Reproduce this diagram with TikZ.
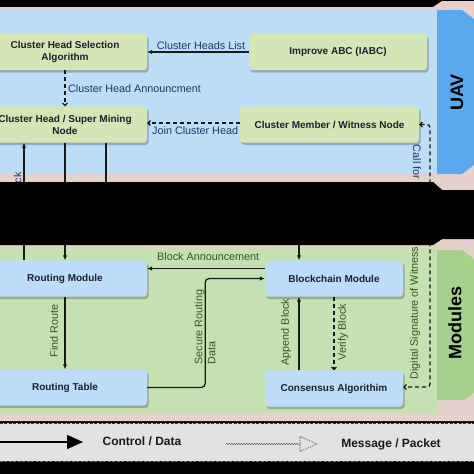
\documentclass[tikz,border=0pt]{standalone}
\usepackage{fontspec}
\setmainfont{Liberation Sans}
\usetikzlibrary{arrows.meta,shadows,decorations.pathmorphing,calc}
\definecolor{pinkf}{HTML}{E5D0CC}
\definecolor{uavbg}{HTML}{BDDCF6}
\definecolor{uavband}{HTML}{5AA8EE}
\definecolor{modbg}{HTML}{C5E0B3}
\definecolor{modband}{HTML}{A8D08D}
\definecolor{gboxc}{HTML}{D4E6B5}
\definecolor{bboxc}{HTML}{BDDCF7}
\definecolor{boxtxt}{HTML}{1B1F2E}
\definecolor{lblblue}{HTML}{1F3864}
\definecolor{lblgreen}{HTML}{375623}
\definecolor{leggray}{HTML}{E2E2E2}
\begin{document}
\begin{tikzpicture}[x=1pt,y=-1pt,
  boxbase/.style={rounded corners=3pt, minimum height=36pt, align=center,
    font=\bfseries\fontsize{10}{12}\selectfont, text=boxtxt, inner sep=1pt,
    drop shadow={shadow xshift=1.5pt, shadow yshift=-2.5pt, opacity=0.35, fill=black!70}},
  gbox/.style={boxbase, fill=gboxc},
  bbox/.style={boxbase, fill=bboxc},
  lbl/.style={font=\fontsize{10.8}{13}\selectfont, text=lblblue, inner sep=0pt},
  lblg/.style={lbl, text=lblgreen},
  solidarr/.style={line width=1.3pt, draw=black!90, -{Latex[length=5pt,width=4.5pt]}},
  dasharr/.style={line width=1.3pt, draw=black!90, dash pattern=on 4pt off 3pt,
    -{Straight Barb[length=2.5pt,width=5pt,line width=1.1pt]}},
  bandtxt/.style={font=\bfseries\fontsize{18}{20}\selectfont, text=black, rotate=90}
]
\useasboundingbox (0,0) rectangle (474,474);
\clip (0,0) rectangle (474,474);
% background
\fill[black] (-5,-5) rectangle (480,480);
% UAV panel
\fill[pinkf] (-5,7) -- (433,7) -- (442,1) -- (480,1) -- (480,190) -- (442,190) -- (433,182) -- (-5,182) -- cycle;
\fill[uavbg] (-5,10) rectangle (437,174);
\fill[uavband] (437,10) -- (462,10) -- (478,22) -- (478,162) -- (462,174) -- (437,174) -- cycle;
% Modules panel
\fill[pinkf] (-5,245) -- (433,245) -- (442,239) -- (480,239) -- (480,421) -- (-5,421) -- cycle;
\fill[modbg] (-5,248) rectangle (437,413);
\fill[modband] (437,250) -- (462,250) -- (478,262) -- (478,390) -- (464,400) -- (437,400) -- cycle;

% boxes
\node[gbox, minimum width=164pt] (chs) at (65,52) {Cluster Head Selection\\Algorithm};
\node[gbox, minimum width=178pt] (iabc) at (338,52) {Improve ABC (IABC)};
\node[gbox, minimum width=164pt] (chn) at (65,124.5) {Cluster Head / Super Mining\\Node};
\node[gbox, minimum width=179pt] (cm) at (329.5,124.5) {Cluster Member / Witness Node};
\node[bbox, minimum width=164pt] (rm) at (65,278.5) {Routing Module};
\node[bbox, minimum width=138pt] (bc) at (334,278.5) {Blockchain Module};
\node[bbox, minimum width=164pt] (rt) at (65,387.5) {Routing Table};
\node[bbox, minimum width=138pt] (ca) at (334,388.5) {Consensus Algorithim};

% band labels
\node[bandtxt] (uavl) at (457,92.5) {UAV};
\node[bandtxt] (modl) at (455,323) {Modules};

% top connectors
\draw[solidarr] (iabc.west) -- (chs.east);
\node[lbl] (l1) at (201,45.5) {Cluster Heads List};
\draw[dasharr] (chs.south) -- (chn.north);
\node[lbl, anchor=west] (l2) at (68,89) {Cluster Head Announcment};
\draw[dasharr] ([yshift=1.5pt]cm.west) -- ([yshift=1.5pt]chn.east);
\node[lbl, anchor=west] (l3) at (152,131) {Join Cluster Head};
\coordinate (cfx) at (430,0);
\draw[dasharr, {Straight Barb[length=2.5pt,width=5pt,line width=1.1pt]}-{Straight Barb[length=2.5pt,width=5pt,line width=1.1pt]}, rounded corners=3pt]
  (cm.east) -- (cm.east -| cfx) -- ([yshift=1.5pt]ca.east -| cfx) -- ([yshift=1.5pt]ca.east);
\node[lbl, rotate=-90] (l4) at (417,162) {Call for};
\node[lblg, rotate=90] (l5) at (415,313) {Digital Signature of Witness};

% vertical links between panels
\draw[solidarr] ([xshift=-41pt]rm.north) -- ([xshift=-41pt]chn.south);
\node[lbl, rotate=90, anchor=east] (l6) at (17.5,172) {Block};
\draw[solidarr] (chn.south) -- (rm.north);
\draw[solidarr] ([xshift=41pt]chn.south) -- ++(0,73) -| ([xshift=-35pt]bc.north);

% bottom connectors
\draw[solidarr] ([yshift=10pt]bc.west) -- ([yshift=10pt]rm.east);
\node[lblg, anchor=west] (l7) at (157,257) {Block Announcement};
\draw[solidarr, rounded corners=4pt] (rt.east) -- ++(58,0) |- (bc.west);
\node[lblg, rotate=90, align=left] (l8) at (205,327) {Secure Routing\\Data};
\draw[solidarr] (rm.south) -- (rt.north);
\node[lblg, rotate=90] (l9) at (54,331) {Find Route};
\draw[solidarr] ([xshift=-35pt]ca.north) -- ([xshift=-35pt]bc.south);
\node[lblg, rotate=90] (l10) at (286,332) {Append Block};
\draw[dasharr] (bc.south) -- (ca.north);
\node[lblg, rotate=90] (l11) at (343,332) {Verify Block};

% black bar between panels (on top)
\fill[black] (-5,182) -- (433,182) -- (442,190) -- (480,190) -- (480,239) -- (442,239) -- (433,245) -- (-5,245) -- cycle;

% legend
\fill[leggray] (-5,423) rectangle (480,461);
\draw[black!80, line width=0.8pt, dash pattern=on 3pt off 1.5pt] (-5,423) -- (480,423);
\draw[black!60, line width=0.6pt, dash pattern=on 3pt off 1.5pt] (-5,461) -- (480,461);
\coordinate (lg1a) at (-5,442);
\coordinate (lg1b) at (83,442);
\draw[line width=1.5pt, -{Triangle[length=16pt,width=14pt]}] (lg1a) -- (lg1b);
\node[font=\bfseries\fontsize{12}{14}\selectfont, text=black!90] (lt1) at (142,441) {Control / Data};
\coordinate (lg2a) at (226,444);
\coordinate (lg2b) at (300,444);
\draw[black!60, line width=0.5pt, decorate, decoration={snake, amplitude=0.7pt, segment length=2.5pt}] (lg2a) -- (lg2b);
\draw[black!70, line width=0.6pt, dash pattern=on 1.5pt off 1pt] (300,436.5) -- (317,444) -- (300,451.5) -- cycle;
\node[font=\bfseries\fontsize{12}{14}\selectfont, text=black!90] (lt2) at (391,444) {Message / Packet};
\end{tikzpicture}
\end{document}
